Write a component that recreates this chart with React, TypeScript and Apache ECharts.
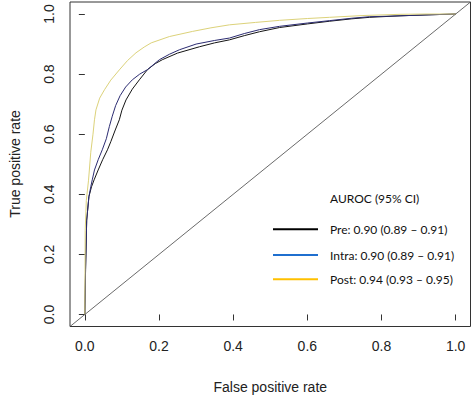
import React, { useEffect, useRef } from "react";
import * as echarts from "echarts";

const xTicks = [0, 0.2, 0.4, 0.6, 0.8, 1.0];
const yTicks = [0, 0.2, 0.4, 0.6, 0.8, 1.0];

// ROC points [fpr, tpr]
const prePoints = [
  [0, 0], [0.002, 0.15], [0.005, 0.314], [0.011, 0.392], [0.018, 0.425], [0.025, 0.448],
  [0.036, 0.481], [0.048, 0.515], [0.061, 0.548], [0.07, 0.575], [0.082, 0.614],
  [0.093, 0.648], [0.1, 0.68], [0.111, 0.714], [0.128, 0.75],
  [0.147, 0.781], [0.169, 0.815], [0.19, 0.835], [0.209, 0.848], [0.25, 0.87],
  [0.309, 0.891], [0.35, 0.904], [0.39, 0.914], [0.43, 0.928], [0.471, 0.941],
  [0.525, 0.955], [0.6, 0.967], [0.66, 0.976], [0.72, 0.984], [0.768, 0.989],
  [0.85, 0.994], [0.92, 0.997], [1, 1],
];
const intraPoints = [
  [0, 0], [0.002, 0.15], [0.005, 0.314], [0.011, 0.392], [0.016, 0.425], [0.02, 0.448],
  [0.026, 0.481], [0.036, 0.515], [0.047, 0.548], [0.058, 0.585], [0.066, 0.625],
  [0.074, 0.66], [0.083, 0.695], [0.095, 0.728], [0.11, 0.757], [0.128, 0.781],
  [0.148, 0.8], [0.169, 0.815], [0.201, 0.848], [0.228, 0.866], [0.255, 0.881],
  [0.3, 0.9], [0.35, 0.912], [0.39, 0.92], [0.43, 0.935], [0.471, 0.948], [0.525, 0.959],
  [0.6, 0.97], [0.66, 0.978], [0.72, 0.986], [0.768, 0.991], [0.85, 0.994],
  [0.92, 0.997], [1, 1],
];
const postPoints = [
  [0, 0], [0.001, 0.28], [0.004, 0.38], [0.01, 0.447], [0.016, 0.54], [0.022, 0.6],
  [0.026, 0.648], [0.03, 0.681], [0.04, 0.72], [0.053, 0.748], [0.07, 0.78],
  [0.093, 0.814], [0.115, 0.845], [0.138, 0.871], [0.16, 0.89], [0.179, 0.904],
  [0.228, 0.925], [0.29, 0.942], [0.34, 0.954], [0.39, 0.964], [0.46, 0.972],
  [0.525, 0.979], [0.6, 0.985], [0.66, 0.989], [0.75, 0.995], [0.85, 0.999],
  [0.92, 1], [1, 1],
];
const diagonal = [[-0.04, -0.04], [1.04, 1.04]];

const legendTitle = "AUROC (95% CI)";
const legendLabels = [
  "Pre: 0.90 (0.89 \u2013 0.91)",
  "Intra: 0.90 (0.89 \u2013 0.91)",
  "Post: 0.94 (0.93 \u2013 0.95)",
];
const legendColors = ["#000000", "#1f6fcf", "#ffc000"];
const curveColors = ["#151515", "#2c2c72", "#dcd27a"];

export default function App() {
  const ref = useRef<HTMLDivElement>(null);
  useEffect(() => {
    if (!ref.current) return;
    const chart = echarts.init(ref.current, null, { renderer: "svg" });
    const font = "'Liberation Sans', Arial, sans-serif";
    const legFont = "Lato, 'Open Sans', sans-serif";
    const legendY = [229.3, 255, 279.3];
    const graphic: any[] = [
      {
        type: "text",
        x: 270.25,
        y: 387,
        style: {
          text: "False positive rate",
          font: `14px ${font}`,
          fill: "#222",
          textAlign: "center",
          textVerticalAlign: "middle",
        },
      },
      {
        type: "text",
        x: 15,
        y: 164,
        rotation: Math.PI / 2,
        style: {
          text: "True positive rate",
          font: `14px ${font}`,
          fill: "#222",
          textAlign: "center",
          textVerticalAlign: "middle",
        },
      },
      {
        type: "text",
        x: 330,
        y: 198,
        style: {
          text: legendTitle,
          font: `12px ${legFont}`,
          fill: "#111",
          textAlign: "left",
          textVerticalAlign: "middle",
        },
      },
    ];
    legendLabels.forEach((lab, i) => {
      graphic.push({
        type: "line",
        shape: { x1: 273, y1: legendY[i], x2: 318, y2: legendY[i] },
        style: { stroke: legendColors[i], lineWidth: 2 },
      });
      graphic.push({
        type: "text",
        x: 330,
        y: legendY[i],
        style: {
          text: lab,
          font: `12px ${legFont}`,
          fill: "#111",
          textAlign: "left",
          textVerticalAlign: "middle",
        },
      });
    });

    const lineSeries = (data: number[][], color: string, width: number) => ({
      type: "line",
      data,
      showSymbol: false,
      symbol: "none",
      lineStyle: { color, width },
      itemStyle: { color },
      silent: true,
    });

    chart.setOption({
      animation: false,
      backgroundColor: "#ffffff",
      grid: {
        left: 70,
        top: 2,
        right: 3.5,
        bottom: 70.5,
        show: true,
        borderColor: "#333",
        borderWidth: 1,
        backgroundColor: "transparent",
      },
      xAxis: {
        type: "value",
        min: -0.04,
        max: 1.04,
        axisLine: { show: false },
        splitLine: { show: false },
        axisTick: {
          show: true,
          length: 6,
          customValues: xTicks,
          lineStyle: { color: "#333" },
        },
        axisLabel: {
          customValues: xTicks,
          formatter: (v: number) => v.toFixed(1),
          margin: 12,
          fontSize: 14,
          fontFamily: font,
          color: "#222",
        },
      },
      yAxis: {
        type: "value",
        min: -0.04,
        max: 1.04,
        axisLine: { show: false },
        splitLine: { show: false },
        axisTick: {
          show: true,
          length: 6,
          customValues: yTicks,
          lineStyle: { color: "#333" },
        },
        axisLabel: {
          customValues: yTicks,
          formatter: (v: number) => v.toFixed(1),
          rotate: 90,
          margin: 14,
          fontSize: 14,
          fontFamily: font,
          color: "#222",
        },
      },
      graphic,
      series: [
        lineSeries(diagonal, "#444", 0.8),
        lineSeries(prePoints, curveColors[0], 1),
        lineSeries(intraPoints, curveColors[1], 1),
        lineSeries(postPoints, curveColors[2], 1),
      ],
    });
    return () => chart.dispose();
  }, []);
  return (
    <div
      ref={ref}
      style={{ position: "fixed", left: 0, top: 0, width: 474, height: 397 }}
    />
  );
}
